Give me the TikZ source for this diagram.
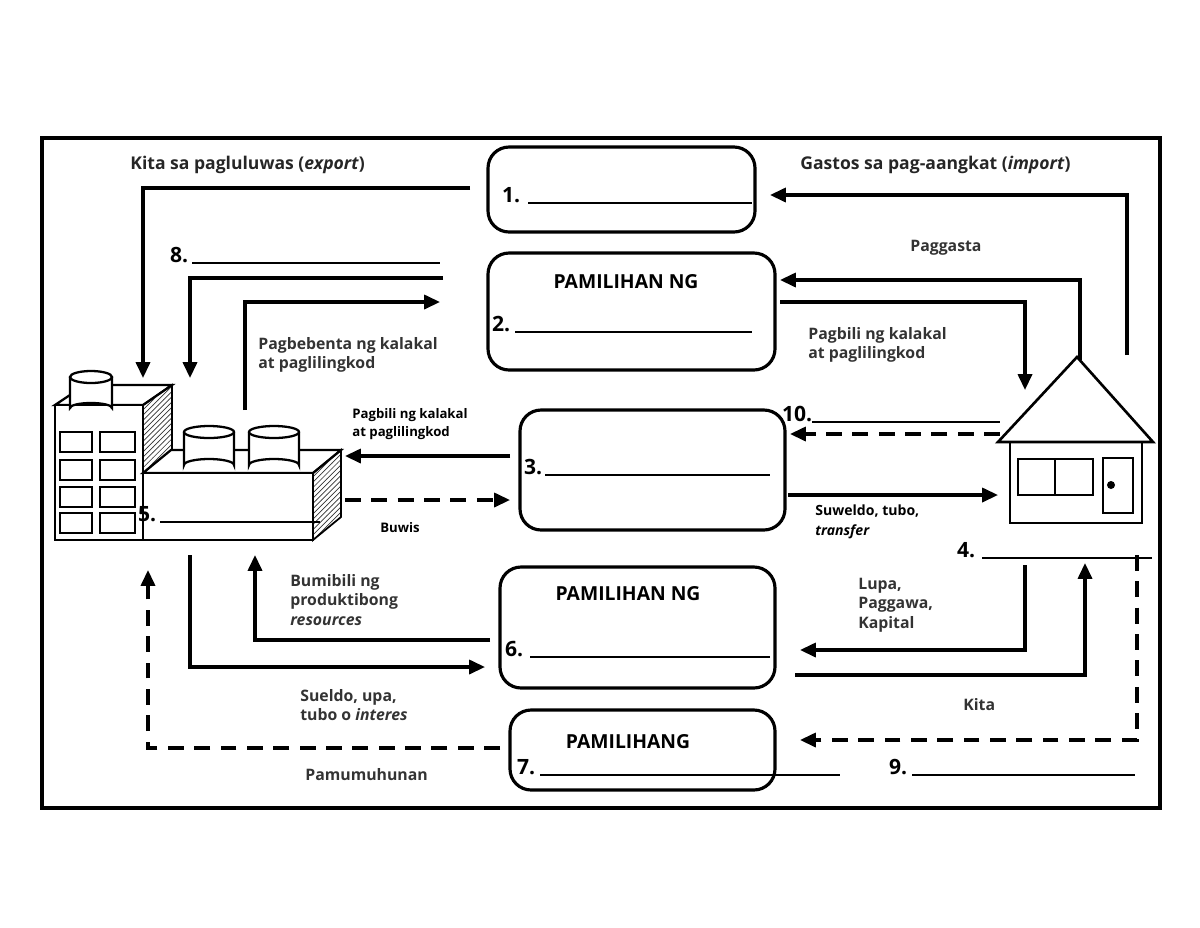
\documentclass[tikz,border=0pt]{standalone}
\usepackage{fontspec}
\setmainfont{Open Sans}
\usetikzlibrary{arrows.meta,patterns}
\begin{document}
\begin{tikzpicture}[x=0.02cm,y=-0.02cm,
 ln/.style={line width=1.6pt},
 ar/.style={line width=1.8pt,-{Triangle[length=9pt,width=8pt]}},
 da/.style={ar,dash pattern=on 9pt off 6pt},
 bx/.style={draw,line width=1.8pt,rounded corners=12pt},
 lb/.style={font=\fontsize{9}{11}\selectfont\bfseries\color{black!80},align=left,anchor=west,inner sep=0},
 num/.style={font=\fontsize{12}{14}\selectfont\bfseries,anchor=south west,inner sep=1pt},
 ttl/.style={font=\fontsize{11}{13}\selectfont\bfseries,inner sep=0},
 sh/.style={draw,line width=1pt,pattern=north east lines,pattern color=black!80}]
\useasboundingbox (0,0) rectangle (1200,927);
\draw[line width=2.6pt] (42,138) rectangle (1160,808);
% boxes
\draw[bx] (488,147) rectangle (755,232);
\draw[bx] (488,253) rectangle (775,370);
\draw[bx] (520,410) rectangle (785,530);
\draw[bx] (500,567) rectangle (775,688);
\draw[bx] (510,710) rectangle (775,790);
% factory
\begin{scope}[line width=1.3pt]
\draw[fill=white] (55,405) -- (85,385) -- (172,385) -- (143,405) -- cycle;
\draw[sh] (143,405) -- (172,385) -- (172,470) -- (143,490) -- cycle;
\draw[fill=white] (55,405) rectangle (143,540);
\foreach \y in {432,460,487,513}{
 \draw (60,\y) rectangle (92,\y+20); \draw (100,\y) rectangle (135,\y+20);}
\draw[fill=white] (70,377) -- (70,408) arc (180:360:21 and 5) -- (112,377);
\draw[fill=white] (91,377) ellipse (21 and 6);
\draw[fill=white] (143,473) -- (171,450) -- (341,450) -- (313,473) -- cycle;
\draw[sh] (313,473) -- (341,450) -- (341,517) -- (313,540) -- cycle;
\draw[fill=white] (143,473) rectangle (313,540);
\foreach \cx in {209,274}{
 \draw[fill=white] (\cx-25,432) -- (\cx-25,465) arc (180:360:25 and 6) -- (\cx+25,432);
 \draw[fill=white] (\cx,432) ellipse (25 and 6);}
\end{scope}
% house
\begin{scope}[line width=1.5pt]
\draw[fill=white] (1010,442) rectangle (1142,523);
\draw[fill=white] (998,442) -- (1077,357) -- (1153,442) -- cycle;
\draw (1018,459) rectangle (1093,495); \draw (1055,459) -- (1055,495);
\draw (1103,458) rectangle (1133,513); \fill (1111,485) circle (4);
\end{scope}
% connectors
\coordinate (exA) at (470,188); \coordinate (exB) at (143,188); \coordinate (exC) at (143,378);
\draw[ar] (exA) -- (exB) -- (exC);
\coordinate (imA) at (1127,355); \coordinate (imB) at (1127,195); \coordinate (imC) at (770,195);
\draw[ar] (imA) -- (imB) -- (imC);
\draw[ar] (443,278) -- (190,278) -- (190,378);
\draw[ar] (245,410) -- (245,302) -- (440,302);
\draw[ar] (1080,360) -- (1080,280) -- (780,280);
\draw[ar] (780,302) -- (1025,302) -- (1025,390);
\draw[da] (1000,434) -- (790,434);
\draw[ar] (510,456) -- (345,456);
\draw[da] (345,500) -- (510,500);
\draw[ar] (788,495) -- (998,495);
\draw[ar] (1025,565) -- (1025,650) -- (800,650);
\draw[ar] (795,675) -- (1085,675) -- (1085,563);
\draw[da] (1137,555) -- (1137,740) -- (800,740);
\draw[da] (500,748) -- (148,748) -- (148,570);
\draw[ar] (490,640) -- (255,640) -- (255,555);
\draw[ar] (190,555) -- (190,667) -- (485,667);
% blanks
\foreach \a/\b/\y in {528/752/203,192/440/263,515/752/332,812/1000/422,545/770/475,160/320/522,982/1152/558,530/770/657,540/840/775,912/1135/775}
 \draw[line width=0.8pt] (\a,\y) -- (\b,\y);
\node[num] at (500,205) {1.};
\node[num] at (168,265) {8.};
\node[num] at (490,334) {2.};
\node[num] at (780,424) {10.};
\node[num] at (522,477) {3.};
\node[num] at (136,524) {5.};
\node[num] at (955,560) {4.};
\node[num] at (503,659) {6.};
\node[num] at (515,777) {7.};
\node[num] at (887,777) {9.};
\node[ttl] at (626,282) {PAMILIHAN NG};
\node[ttl] at (628,594) {PAMILIHAN NG};
\node[ttl] at (628,742) {PAMILIHANG};
% labels
\node[lb,font=\fontsize{10}{12}\selectfont\bfseries\color{black!85}] at (130,165) {Kita sa pagluluwas (\textit{export})};
\node[lb,font=\fontsize{10}{12}\selectfont\bfseries\color{black!85}] at (800,165) {Gastos sa pag-aangkat (\textit{import})};
\node[lb] at (910,248) {Paggasta};
\node[lb] at (808,345) {Pagbili ng kalakal\\at paglilingkod};
\node[lb] at (258,355) {Pagbebenta ng kalakal\\at paglilingkod};
\node[lb,font=\fontsize{7.5}{10}\selectfont\bfseries] at (352,424) {Pagbili ng kalakal\\at paglilingkod};
\node[lb,font=\fontsize{7.5}{9}\selectfont\bfseries] at (380,528) {Buwis};
\node[lb,font=\fontsize{8}{11}\selectfont\bfseries] at (815,522) {Suweldo, tubo,\\\textit{transfer}};
\node[lb] at (858,605) {Lupa,\\Paggawa,\\Kapital};
\node[lb] at (290,600) {Bumibili ng\\produktibong\\\textit{resources}};
\node[lb] at (300,705) {Sueldo, upa,\\tubo o \textit{interes}};
\node[lb] at (963,705) {Kita};
\node[lb] at (305,775) {Pamumuhunan};
\end{tikzpicture}
\end{document}
